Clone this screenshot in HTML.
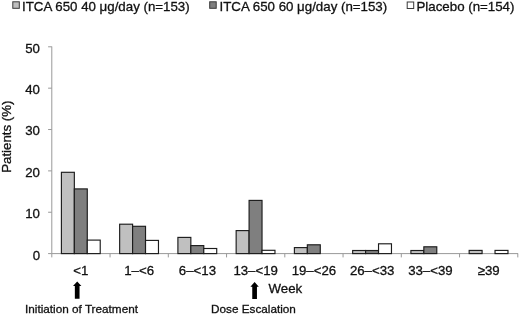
<!DOCTYPE html>
<html><head><meta charset="utf-8"><title>chart</title>
<style>
html,body{margin:0;padding:0;background:#fff;}
svg{display:block;}
svg{font-family:"Liberation Sans",Arial,Helvetica,sans-serif;font-size:13.25px;fill:#111;}
text{stroke:#111;stroke-width:0.3px;}
.lg text{font-size:13.3px}
.an{font-size:11.75px}
</style></head><body>
<svg width="520" height="316" viewBox="0 0 520 316">
<rect width="520" height="316" fill="#fff"/>

<g stroke="#999" stroke-width="1" fill="none" shape-rendering="auto">
<line x1="51.8" y1="46.5" x2="51.8" y2="253.6"/>
<line x1="51.8" y1="253.6" x2="518.1" y2="253.6"/>
<line x1="48.1" y1="253.60" x2="51.8" y2="253.60"/>
<line x1="48.1" y1="212.24" x2="51.8" y2="212.24"/>
<line x1="48.1" y1="170.88" x2="51.8" y2="170.88"/>
<line x1="48.1" y1="129.52" x2="51.8" y2="129.52"/>
<line x1="48.1" y1="88.16" x2="51.8" y2="88.16"/>
<line x1="48.1" y1="46.80" x2="51.8" y2="46.80"/>
<line x1="51.80" y1="253.6" x2="51.80" y2="257.4"/>
<line x1="110.05" y1="253.6" x2="110.05" y2="257.4"/>
<line x1="168.30" y1="253.6" x2="168.30" y2="257.4"/>
<line x1="226.55" y1="253.6" x2="226.55" y2="257.4"/>
<line x1="284.80" y1="253.6" x2="284.80" y2="257.4"/>
<line x1="343.05" y1="253.6" x2="343.05" y2="257.4"/>
<line x1="401.30" y1="253.6" x2="401.30" y2="257.4"/>
<line x1="459.55" y1="253.6" x2="459.55" y2="257.4"/>
<line x1="517.80" y1="253.6" x2="517.80" y2="257.4"/>
</g>
<g stroke="#1c1c1c" stroke-width="1.15">
<rect x="61.40" y="172.30" width="12.94" height="81.30" fill="#c0c0c0"/>
<rect x="74.34" y="188.90" width="12.94" height="64.70" fill="#7f7f7f"/>
<rect x="87.28" y="240.10" width="12.94" height="13.50" fill="#ffffff"/>
<rect x="119.65" y="224.20" width="12.94" height="29.40" fill="#c0c0c0"/>
<rect x="132.59" y="226.30" width="12.94" height="27.30" fill="#7f7f7f"/>
<rect x="145.53" y="240.40" width="12.94" height="13.20" fill="#ffffff"/>
<rect x="177.90" y="237.40" width="12.94" height="16.20" fill="#c0c0c0"/>
<rect x="190.84" y="245.60" width="12.94" height="8.00" fill="#7f7f7f"/>
<rect x="203.78" y="248.50" width="12.94" height="5.10" fill="#ffffff"/>
<rect x="236.15" y="230.60" width="12.94" height="23.00" fill="#c0c0c0"/>
<rect x="249.09" y="200.40" width="12.94" height="53.20" fill="#7f7f7f"/>
<rect x="262.03" y="250.30" width="12.94" height="3.30" fill="#ffffff"/>
<rect x="294.40" y="247.60" width="12.94" height="6.00" fill="#c0c0c0"/>
<rect x="307.34" y="244.80" width="12.94" height="8.80" fill="#7f7f7f"/>
<rect x="352.65" y="250.50" width="12.94" height="3.10" fill="#c0c0c0"/>
<rect x="365.59" y="250.50" width="12.94" height="3.10" fill="#7f7f7f"/>
<rect x="378.53" y="243.80" width="12.94" height="9.80" fill="#ffffff"/>
<rect x="410.90" y="250.50" width="12.94" height="3.10" fill="#c0c0c0"/>
<rect x="423.84" y="246.80" width="12.94" height="6.80" fill="#7f7f7f"/>
<rect x="469.15" y="250.40" width="12.94" height="3.20" fill="#c0c0c0"/>
<rect x="495.03" y="250.40" width="12.94" height="3.20" fill="#ffffff"/>
</g>
<text x="40" y="260" text-anchor="end">0</text>
<text x="40" y="218" text-anchor="end">10</text>
<text x="40" y="177" text-anchor="end">20</text>
<text x="40" y="135" text-anchor="end">30</text>
<text x="40" y="94" text-anchor="end">40</text>
<text x="40" y="53" text-anchor="end">50</text>
<text x="80.92" y="275" text-anchor="middle">&lt;1</text>
<text x="139.18" y="275" text-anchor="middle">1–&lt;6</text>
<text x="197.43" y="275" text-anchor="middle">6–&lt;13</text>
<text x="255.68" y="275" text-anchor="middle">13–&lt;19</text>
<text x="313.93" y="275" text-anchor="middle">19–&lt;26</text>
<text x="372.18" y="275" text-anchor="middle">26–&lt;33</text>
<text x="430.43" y="275" text-anchor="middle">33–&lt;39</text>
<text x="488.68" y="275" text-anchor="middle">≥39</text>
<text transform="translate(11,136.7) rotate(-90)" text-anchor="middle">Patients (%)</text>
<text x="268.5" y="293">Week</text>
<text x="25" y="313" class="an">Initiation of Treatment</text>
<text x="211" y="313" class="an">Dose Escalation</text>
<polygon fill="#000" points="77.2,281.5 81.4,286.1 79.55,286.1 79.55,298.8 74.85000000000001,298.8 74.85000000000001,286.1 73.0,286.1"/>
<polygon fill="#000" points="254.6,282.1 258.8,286.70000000000005 256.95,286.70000000000005 256.95,299.0 252.25,299.0 252.25,286.70000000000005 250.4,286.70000000000005"/>
<g class="lg">
<rect x="12.8" y="1.8" width="6.5" height="6.5" fill="#c0c0c0" stroke="#3a3a3a" stroke-width="1"/>
<text x="22" y="11.3">ITCA 650 40 μg/day (n=153)</text>
<rect x="209.7" y="1.8" width="6.5" height="6.5" fill="#7f7f7f" stroke="#3a3a3a" stroke-width="1"/>
<text x="219.5" y="11.3">ITCA 650 60 μg/day (n=153)</text>
<rect x="407.2" y="2.0" width="6.5" height="6.5" fill="#fff" stroke="#3a3a3a" stroke-width="1"/>
<text x="416.5" y="11.3">Placebo (n=154)</text>
</g>
</svg></body></html>
